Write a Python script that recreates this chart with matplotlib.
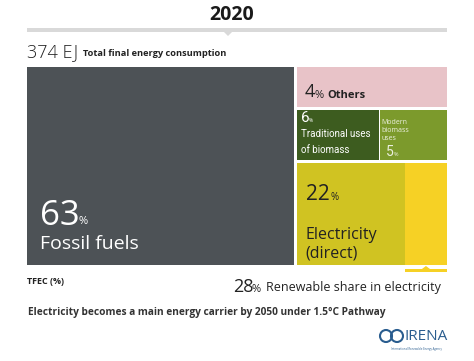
import matplotlib.pyplot as plt
from matplotlib.patches import Rectangle, Polygon, Circle

# --- data (shares of total final energy consumption, %)
year = "2020"
tfec_ej = 374
fossil_share = 63
others_share = 4
trad_biomass_share = 6
modern_biomass_share = 5
electricity_share = 22
renewable_elec_share = 28

# --- layout (pixels)
W, H = 474, 361
x0, x1 = 27, 447
ytop, ybot = 67, 265
gap = 3
row_frac = [0.21, 0.26, 0.53]   # heights of right column rows

c_fossil = "#4d5256"
c_others = "#e8c3c8"
c_trad = "#3d5c1f"
c_modern = "#7c9a2c"
c_elec = "#d0c322"
c_renew = "#f6d125"
c_bar = "#d9d9d9"
narrow = ['Roboto', 'DejaVu Sans']

plt.rcParams['font.family'] = ['Open Sans', 'DejaVu Sans']

fig = plt.figure(figsize=(W / 100, H / 100), dpi=100)
ax = fig.add_axes([0, 0, 1, 1])
ax.set_xlim(0, W)
ax.set_ylim(H, 0)
ax.axis("off")

# header
ax.text(232, 15, year, ha="center", va="center", fontsize=14, fontweight="bold", color="#1a1a1a")
ax.add_patch(Rectangle((x0, 28), x1 - x0, 4, color=c_bar, lw=0))
ax.add_patch(Polygon([(224, 32), (232, 32), (228, 36)], color=c_bar, lw=0))
ax.text(x0, 52, f"{tfec_ej} EJ", ha="left", va="center", fontsize=13, fontweight="light", color="#222222")
ax.text(83, 53, "Total final energy consumption", ha="left", va="center", fontsize=6.7, fontweight="bold", color="#222222")

# treemap
total = fossil_share + others_share + trad_biomass_share + modern_biomass_share + electricity_share
wf = (x1 - x0) * fossil_share / total + 2
ax.add_patch(Rectangle((x0, ytop), wf, ybot - ytop, color=c_fossil, lw=0))
rx0 = x0 + wf + gap
rw = x1 - rx0
hh = ybot - ytop - 2 * gap
h_oth = hh * row_frac[0]
h_bio = hh * row_frac[1]
h_ele = hh * row_frac[2]
y_bio = ytop + h_oth + gap
y_ele = y_bio + h_bio + gap
ax.add_patch(Rectangle((rx0, ytop), rw, h_oth, color=c_others, lw=0))
w_trad = rw * trad_biomass_share / (trad_biomass_share + modern_biomass_share)
ax.add_patch(Rectangle((rx0, y_bio), w_trad, h_bio, color=c_trad, lw=0))
ax.add_patch(Rectangle((rx0 + w_trad + 1, y_bio), rw - w_trad - 1, h_bio, color=c_modern, lw=0))
w_ren = rw * renewable_elec_share / 100
ax.add_patch(Rectangle((rx0, y_ele), rw, h_ele, color=c_elec, lw=0))
ax.add_patch(Rectangle((x1 - w_ren, y_ele), w_ren, h_ele, color=c_renew, lw=0))

# renewable share bracket
ax.add_patch(Rectangle((x1 - w_ren, ybot + 4), w_ren, 3, color=c_renew, lw=0))
xm = x1 - w_ren / 2
ax.add_patch(Polygon([(xm - 4, ybot + 4), (xm + 4, ybot + 4), (xm, ybot + 1)], color=c_renew, lw=0))

# labels in blocks
ax.text(40, 216, f"{fossil_share}", ha="left", va="center", fontsize=25, color="white")
ax.text(79, 222, "%", ha="left", va="center", fontsize=8, color="white")
ax.text(40, 244, "Fossil fuels", ha="left", va="center", fontsize=14, color="white")

ax.text(rx0 + 8, 92, f"{others_share}", ha="left", va="center", fontsize=13, color="#222222")
ax.text(rx0 + 18, 95, "%", ha="left", va="center", fontsize=8, color="#222222")
ax.text(rx0 + 31, 95, "Others", ha="left", va="center", fontsize=8, fontweight="bold", color="#222222")

ax.text(rx0 + 4, 118, f"{trad_biomass_share}", ha="left", va="center", fontsize=11, color="white", family=narrow)
ax.text(rx0 + 12, 121, "%", ha="left", va="center", fontsize=3.5, color="white")
ax.text(rx0 + 4, 134, "Traditional uses", ha="left", va="center", fontsize=7, color="white", family=narrow)
ax.text(rx0 + 4, 150, "of biomass", ha="left", va="center", fontsize=7, color="white", family=narrow)

mx = rx0 + w_trad + 3
ax.text(mx, 122, "Modern", ha="left", va="center", fontsize=5, color="white", alpha=0.85)
ax.text(mx, 130, "biomass", ha="left", va="center", fontsize=5, color="white", alpha=0.85)
ax.text(mx, 138, "uses", ha="left", va="center", fontsize=5, color="white", alpha=0.85)
ax.text(mx + 4, 152, f"{modern_biomass_share}", ha="left", va="center", fontsize=10, color="white", alpha=0.85, family=narrow)
ax.text(mx + 12, 154, "%", ha="left", va="center", fontsize=4, color="white", alpha=0.85)

ax.text(rx0 + 9, 195, f"{electricity_share}", ha="left", va="center", fontsize=15, color="#222222")
ax.text(rx0 + 34, 198, "%", ha="left", va="center", fontsize=7, color="#222222")
ax.text(rx0 + 9, 235, "Electricity", ha="left", va="center", fontsize=11.5, color="#222222")
ax.text(rx0 + 9, 253, "(direct)", ha="left", va="center", fontsize=11.5, color="#222222")

# below treemap
ax.text(x0, 281, "TFEC (%)", ha="left", va="center", fontsize=6.5, fontweight="bold", color="#222222")
ax.text(233, 287, f"{renewable_elec_share}", ha="left", va="center", fontsize=13, color="#222222")
ax.text(252, 290, "%", ha="left", va="center", fontsize=8, color="#222222")
ax.text(441, 288, "Renewable share in electricity", ha="right", va="center", fontsize=9, color="#222222")

ax.text(28, 312, "Electricity becomes a main energy carrier by 2050 under 1.5\u00b0C Pathway",
        ha="left", va="center", fontsize=7.3, fontweight="bold", color="#333333")

# IRENA logo
ax.add_patch(Circle((386, 336), 6, fill=False, ec="#2a5d8f", lw=1.5))
ax.add_patch(Circle((397, 336), 6, fill=False, ec="#2a5d8f", lw=1.5))
ax.text(405, 336, "IRENA", ha="left", va="center", fontsize=11, color="#2a5d8f")
ax.text(416, 349, "International Renewable Energy Agency", ha="center", va="center", fontsize=2, color="#2a5d8f")

fig.savefig("out.png", dpi=100)
